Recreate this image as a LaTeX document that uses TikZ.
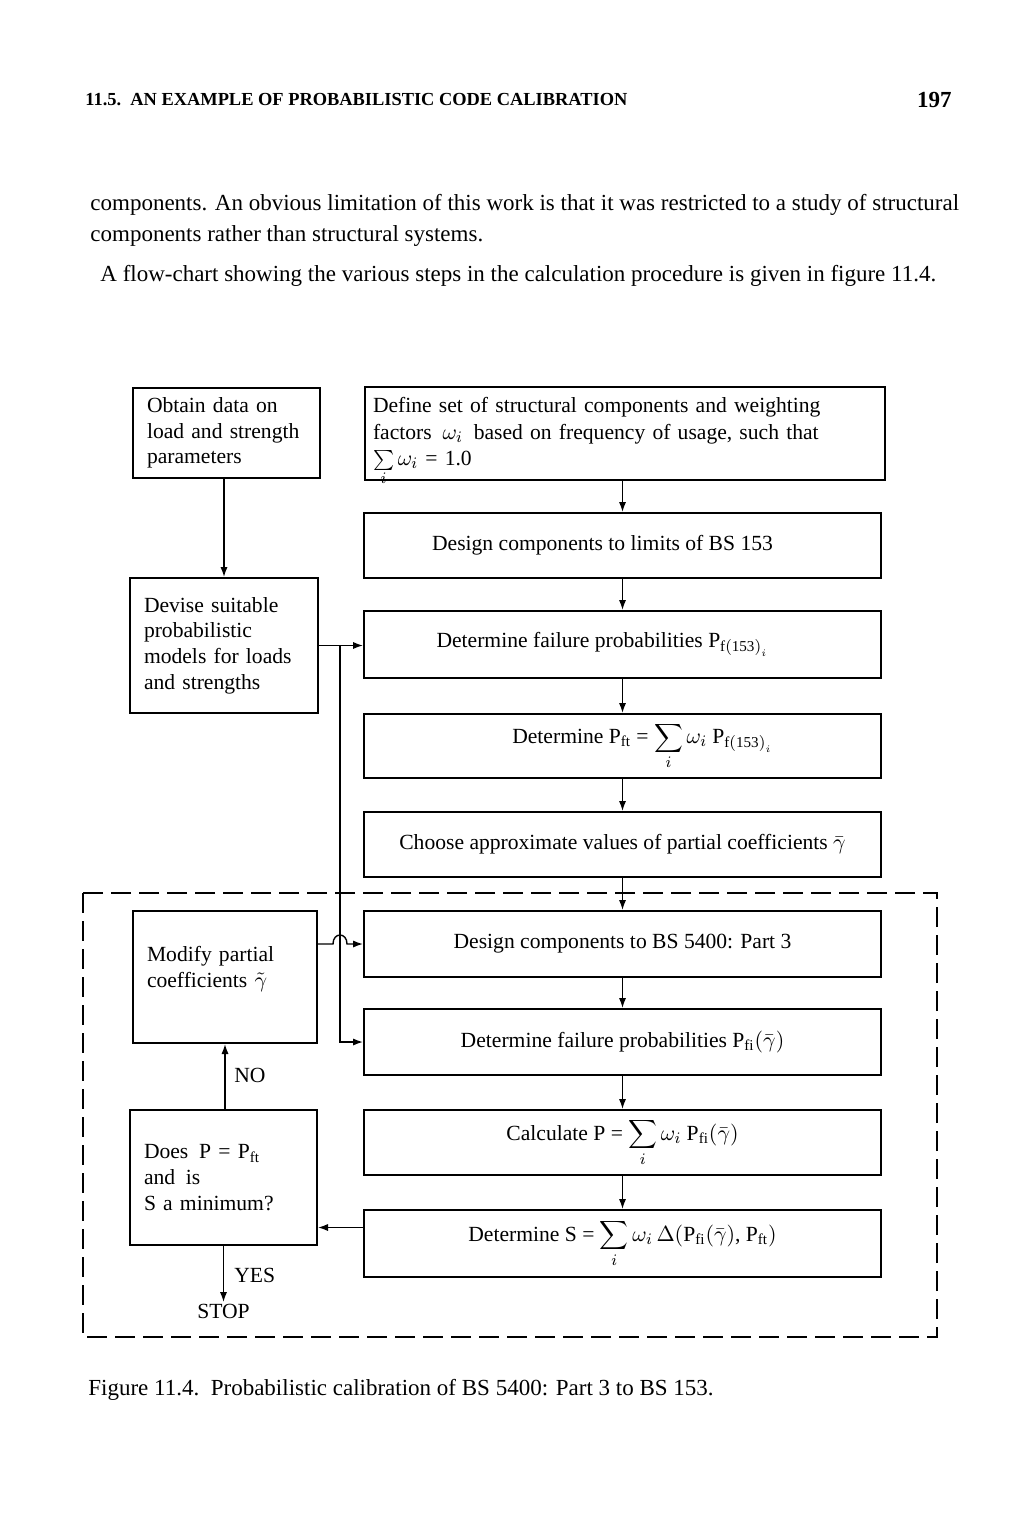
\documentclass[tikz,border=0pt]{standalone}
\usepackage{fontspec}
\setmainfont{Liberation Serif}
\usetikzlibrary{arrows.meta}
\newcommand\bxfont{\fontsize{10.8}{12.8}\selectfont}
\newcommand\parfont{\fontsize{11.5}{13}\selectfont}
\newcommand\mysum{\displaystyle\sum_{i}}
\begin{document}
\begin{tikzpicture}[x=0.5pt,y=-0.5pt,
  box/.style={draw, line width=1pt, inner sep=0pt, font=\bxfont, align=center},
  lbox/.style={box, align=left, inner xsep=7pt},
  rbox/.style={box, minimum width=258.5pt},
  arr/.style={-{Latex[length=5pt,width=3.6pt]}, line width=0.7pt},
  lbl/.style={font=\bxfont, inner sep=1pt},
  ptext/.style={font=\parfont, inner sep=0pt, anchor=west}]
\useasboundingbox (0,0) rectangle (1024,1519);

% header and paragraph
\node[font=\fontsize{9.2}{11}\selectfont\bfseries, inner sep=0pt, anchor=west] (hdr) at (85,100) {11.5.\enspace AN EXAMPLE OF PROBABILISTIC CODE CALIBRATION};
\node[font=\fontsize{11.5}{13}\selectfont\bfseries, inner sep=0pt, anchor=east] (pg) at (952,100) {197};
\node[ptext] (p1) at (90,205) {components. An obvious limitation of this work is that it was restricted to a study of structural};
\node[ptext] (p2) at (90,236) {components rather than structural systems.};
\node[ptext] (p3) at (100,276) {A flow-chart showing the various steps in the calculation procedure is given in figure 11.4.};

% boxes
\node[lbox, text width=79.5pt, minimum height=45pt] (b1) at (226.5,433) {Obtain data on\\load and strength\\parameters};
\node[box, align=left, inner xsep=4pt, text width=252pt, minimum height=46.5pt,
  font=\fontsize{10.8}{13.2}\selectfont] (b2) at (625,433.5)
  {Define set of structural components and weighting\\factors\enspace$\omega_i$\enspace based on frequency of usage, such that\\\raisebox{0pt}[\height][2pt]{$\sum\limits_{i}\omega_i$ = 1.0}};
\node[rbox, minimum height=32.5pt] (b3) at (622.5,545.5) {Design components to limits of BS 153\hspace{20pt}};
\node[lbox, text width=80pt, minimum height=67.5pt] (b4) at (224,645.5) {Devise suitable\\probabilistic\\models for loads\\and strengths};
\node[rbox, minimum height=33.5pt] (b5) at (622.5,644.5) {Determine failure probabilities P$_{\mathrm{f(153)}_i}$\hspace{20pt}};
\node[rbox, minimum height=32pt] (b6) at (622.5,746) {\hspace{20pt}Determine P$_{\mathrm{ft}}$ = $\mysum\omega_i$ P$_{\mathrm{f(153)}_i}$};
\node[rbox, minimum height=32.5pt] (b7) at (622.5,844.5) {Choose approximate values of partial coefficients $\bar{\gamma}$};

\node[lbox, text width=78pt, minimum height=66pt] (b8) at (225,977) {Modify partial\\coefficients $\tilde{\gamma}$\rule[-10pt]{0pt}{1pt}};
\node[rbox, minimum height=33pt] (b9) at (622.5,944) {Design components to BS 5400: Part 3};
\node[rbox, minimum height=33pt] (b10) at (622.5,1042) {Determine failure probabilities P$_{\mathrm{fi}}(\bar{\gamma})$};
\node[lbox, text width=79.5pt, minimum height=67.5pt] (b11) at (223.5,1177.5) {Does\enspace P = P$_{\mathrm{ft}}$\\and\enspace is\\S a minimum?};
\node[rbox, minimum height=32.5pt] (b12) at (622.5,1142.5) {Calculate P = $\mysum\omega_i$ P$_{\mathrm{fi}}(\bar{\gamma})$};
\node[rbox, minimum height=33.5pt] (b13) at (622.5,1243.5) {Determine S = $\mysum\omega_i\,\Delta($P$_{\mathrm{fi}}(\bar{\gamma})$, P$_{\mathrm{ft}})$};

\node[lbl, anchor=north] (stop) at (223.5,1302) {STOP};
\node[lbl, anchor=west] (yes) at (232,1275) {YES};
\node[lbl, anchor=west] (no) at (232,1075) {NO};

% dashed loop frame
\draw[line width=1pt, dash pattern=on 10pt off 4pt] (83,893) rectangle (937,1337);

% connectors
\draw[arr] (b1.south -| b4.north) -- (b4.north);
\draw[arr] (b3.north |- b2.south) -- (b3.north);
\draw[arr] (b3.south) -- (b5.north);
\draw[arr] (b5.south) -- (b6.north);
\draw[arr] (b6.south) -- (b7.north);
\draw[arr] (b7.south) -- (b9.north);
\draw[arr] (b9.south) -- (b10.north);
\draw[arr] (b10.south) -- (b12.north);
\draw[arr] (b12.south) -- (b13.north);

\draw[arr] (b4.east) -- (b4.east -| b5.west);
\coordinate (j) at (340,645.5);
\draw[arr] (j) |- (b10.west);

\coordinate (h0) at (b8.east |- b9.west);
\coordinate (ha) at (333,944);
\coordinate (hb) at (347,944);
\draw[arr] (h0) -- (ha) .. controls (333,932) and (347,932) .. (hb) -- (b9.west);

\coordinate (c13) at ([yshift=8pt]b13.west);
\draw[arr] (c13) -- (c13 -| b11.east);
\draw[arr] (b8.south |- b11.north) -- (b8.south);
\draw[arr] (b11.south) -- (stop.north);

% caption
\node[ptext] (cap) at (88,1390) {Figure 11.4.\enspace Probabilistic calibration of BS 5400: Part 3 to BS 153.};
\end{tikzpicture}
\end{document}
